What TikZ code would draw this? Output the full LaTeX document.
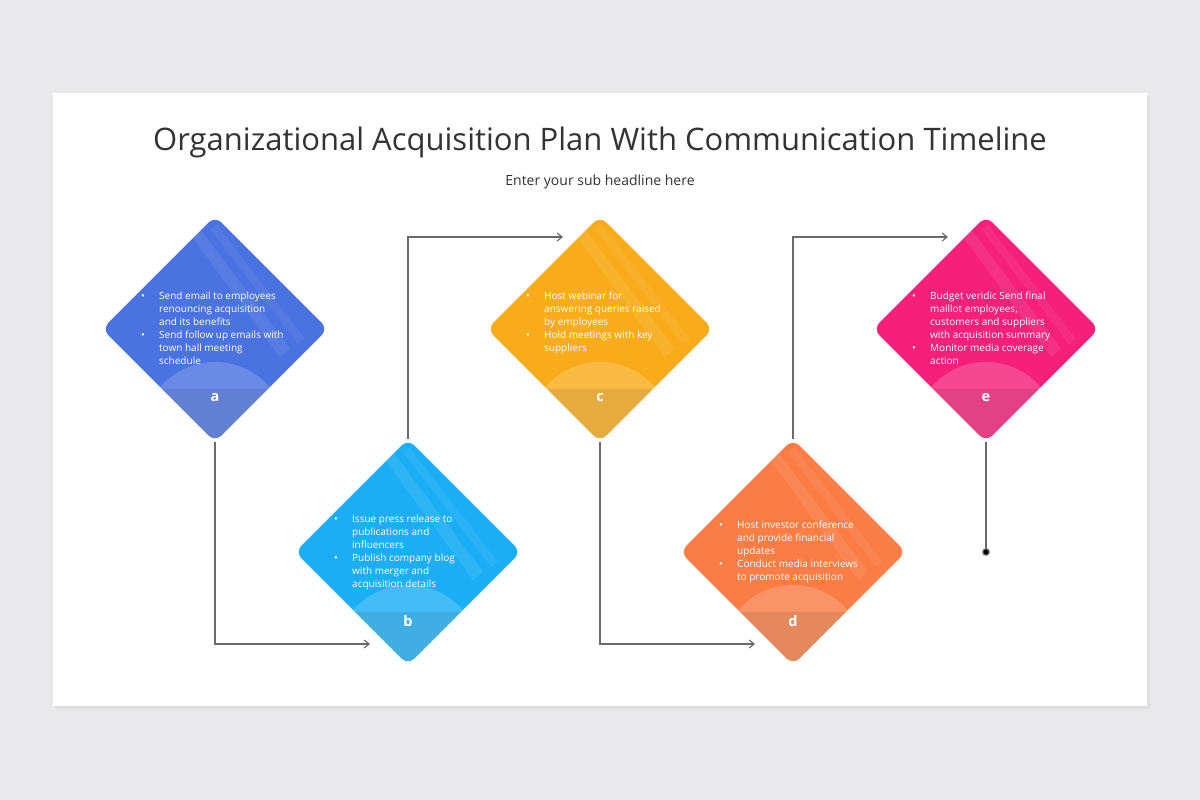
\documentclass[tikz,border=0pt]{standalone}
\usepackage{fontspec}
\setmainfont{Open Sans}
\usetikzlibrary{shapes.geometric,arrows.meta}
\definecolor{bg}{HTML}{E9E8EA}
\definecolor{cA}{HTML}{4A72E0}
\definecolor{cB}{HTML}{1CAEF5}
\definecolor{cC}{HTML}{F9AC1B}
\definecolor{cD}{HTML}{FA7D45}
\definecolor{cE}{HTML}{F5207A}
\definecolor{ink}{HTML}{333333}
\definecolor{conn}{HTML}{6A6A6A}
\newcommand{\Bl}[1]{\fontsize{10}{13}\selectfont\begin{tabular}{@{}p{18pt}@{}l@{}}#1\end{tabular}}
\begin{document}
\begin{tikzpicture}[x=1pt,y=-1pt,
  dia/.style={diamond,minimum width=226pt,minimum height=226pt,inner sep=0pt,rounded corners=9pt},
  btxt/.style={anchor=north west,inner sep=0pt,text=white},
  wk/.style={text=white,font=\fontsize{14.5}{16}\selectfont\bfseries},
  conn/.style={draw=conn,line width=1.1pt},
  arr/.style={conn,-{Straight Barb[length=5pt,width=8pt]}}]
\fill[bg] (0,0) rectangle (1200,800);
\useasboundingbox (0,0) rectangle (1200,800);
\fill[black!12] (55,96) rectangle (1150,709);
\fill[white] (53,93) rectangle (1147,706);
\node[text=ink,font=\fontsize{31}{36}\selectfont] (title) at (600,142) {Organizational Acquisition Plan With Communication Timeline};
\node[text=ink,font=\fontsize{14}{17}\selectfont] (sub) at (600,182) {Enter your sub headline here};
\foreach \n/\x/\y/\c in {a/215/329/cA,b/408/552/cB,c/600/329/cC,d/793/552/cD,e/986/329/cE}{
  \node[dia,fill=\c] (\n) at (\x,\y) {};
  \begin{scope}
    \clip[rounded corners=9pt] (\x,\y-113) -- (\x+113,\y) -- (\x,\y+113) -- (\x-113,\y) -- cycle;
    \fill[white,opacity=0.18] (\x,\y+105) circle (72);
    \fill[black,opacity=0.08] (\x-113,\y+60) rectangle (\x+113,\y+113);
    \fill[white,opacity=0.08] (\x-25,\y-95) -- (\x-15,\y-100) -- (\x+75,\y+20) -- (\x+65,\y+28) -- cycle;
    \fill[white,opacity=0.06] (\x-5,\y-100) -- (\x+2,\y-104) -- (\x+90,\y+10) -- (\x+83,\y+15) -- cycle;
  \end{scope}
  \node[wk] (w\n) at (\x,\y+69) {\n};
}
\foreach \n/\t in {a/1 Week,b/2 Week,c/3 Week,d/4 Week,e/5 Week}{\node[wk,fill=none] at (w\n) {\phantom{x}};}
\node[btxt] (ta) at (141,290) {\Bl{•&Send email to employees\\&renouncing acquisition\\&and its benefits\\•&Send follow up emails with\\&town hall meeting\\&schedule}};
\node[btxt] (tb) at (334,513) {\Bl{•&Issue press release to\\&publications and\\&influencers\\•&Publish company blog\\&with merger and\\&acquisition details}};
\node[btxt] (tc) at (526,290) {\Bl{•&Host webinar for\\&answering queries raised\\&by employees\\•&Hold meetings with key\\&suppliers}};
\node[btxt] (td) at (719,519) {\Bl{•&Host investor conference\\&and provide financial\\&updates\\•&Conduct media interviews\\&to promote acquisition}};
\node[btxt] (te) at (912,290) {\Bl{•&Budget veridic Send final\\&maillot employees,\\&customers and suppliers\\&with acquisition summary\\•&Monitor media coverage\\&action}};
\coordinate (e1) at (370,644);
\coordinate (e2) at (563,237);
\coordinate (e3) at (755,644);
\coordinate (e4) at (948,237);
\coordinate (e5) at (986,552);
\draw[arr] (a.south) |- (e1);
\draw[arr] (b.north) |- (e2);
\draw[arr] (c.south) |- (e3);
\draw[arr] (d.north) |- (e4);
\draw[conn] (e.south) -- (e5);
\fill[conn] (e5) circle (3.2);
\end{tikzpicture}
\end{document}
